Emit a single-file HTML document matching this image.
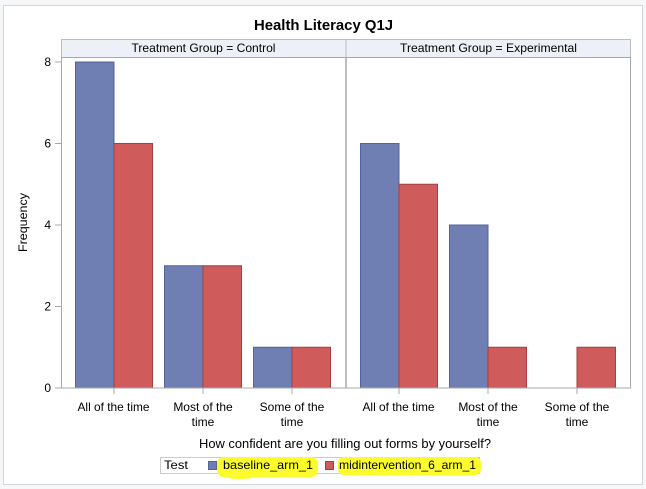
<!DOCTYPE html>
<html>
<head>
<meta charset="utf-8">
<style>
html,body{margin:0;padding:0;background:#f6f7f9;}
svg{display:block;}
text{font-family:"Liberation Sans",Arial,sans-serif;fill:#000;}
</style>
</head>
<body>
<svg width="646" height="489" viewBox="0 0 646 489" xmlns="http://www.w3.org/2000/svg">
  <rect x="0" y="0" width="646" height="489" fill="#f6f7f9"/>
  <rect x="3.5" y="5.5" width="639" height="479" fill="#ffffff" stroke="#d2d5db" stroke-width="1"/>

  <!-- Title -->
  <text x="323.5" y="30" font-size="15" font-weight="bold" text-anchor="middle" textLength="139" lengthAdjust="spacingAndGlyphs">Health Literacy Q1J</text>

  <!-- Header strips -->
  <rect x="61.5" y="39.5" width="569" height="18" fill="#eef0f7" stroke="#b9bcc4" stroke-width="1"/>
  <line x1="346" y1="39.5" x2="346" y2="57.5" stroke="#b9bcc4" stroke-width="1"/>
  <text x="203.5" y="52" font-size="12" text-anchor="middle" textLength="144" lengthAdjust="spacingAndGlyphs">Treatment Group = Control</text>
  <text x="488.5" y="52" font-size="12" text-anchor="middle" textLength="177" lengthAdjust="spacingAndGlyphs">Treatment Group = Experimental</text>

  <!-- Bars: Control -->
  <g stroke-width="1">
    <rect x="75.5" y="62" width="38.5" height="326" fill="#6f7eb3" stroke="#55639a"/>
    <rect x="114" y="143.5" width="38.5" height="244.5" fill="#d05b5b" stroke="#a4403f"/>
    <rect x="164.5" y="265.75" width="38.5" height="122.25" fill="#6f7eb3" stroke="#55639a"/>
    <rect x="203" y="265.75" width="38.5" height="122.25" fill="#d05b5b" stroke="#a4403f"/>
    <rect x="253.5" y="347.25" width="38.5" height="40.75" fill="#6f7eb3" stroke="#55639a"/>
    <rect x="292" y="347.25" width="38.5" height="40.75" fill="#d05b5b" stroke="#a4403f"/>
    <!-- Experimental -->
    <rect x="360.5" y="143.5" width="38.5" height="244.5" fill="#6f7eb3" stroke="#55639a"/>
    <rect x="399" y="184.25" width="38.5" height="203.75" fill="#d05b5b" stroke="#a4403f"/>
    <rect x="449.5" y="225" width="38.5" height="163" fill="#6f7eb3" stroke="#55639a"/>
    <rect x="488" y="347.25" width="38.5" height="40.75" fill="#d05b5b" stroke="#a4403f"/>
    <rect x="577" y="347.25" width="38.5" height="40.75" fill="#d05b5b" stroke="#a4403f"/>
  </g>

  <!-- Panel frames -->
  <rect x="61.5" y="57.5" width="569" height="330.5" fill="none" stroke="#a7a9ae" stroke-width="1"/>
  <line x1="346" y1="57.5" x2="346" y2="388" stroke="#a7a9ae" stroke-width="1.5"/>

  <!-- Y ticks -->
  <g stroke="#a7a9ae" stroke-width="1">
    <line x1="55" y1="62" x2="61" y2="62"/>
    <line x1="55" y1="143.5" x2="61" y2="143.5"/>
    <line x1="55" y1="225" x2="61" y2="225"/>
    <line x1="55" y1="306.5" x2="61" y2="306.5"/>
    <line x1="55" y1="388" x2="61" y2="388"/>
  </g>
  <g font-size="12" text-anchor="end">
    <text x="51" y="66">8</text>
    <text x="51" y="147.5">6</text>
    <text x="51" y="229">4</text>
    <text x="51" y="310.5">2</text>
    <text x="51" y="392">0</text>
  </g>
  <text x="27" y="222.5" font-size="12" text-anchor="middle" transform="rotate(-90 27 222.5)" textLength="59" lengthAdjust="spacingAndGlyphs">Frequency</text>

  <!-- X ticks -->
  <g stroke="#a7a9ae" stroke-width="1">
    <line x1="114" y1="388" x2="114" y2="394"/>
    <line x1="203" y1="388" x2="203" y2="394"/>
    <line x1="292" y1="388" x2="292" y2="394"/>
    <line x1="399" y1="388" x2="399" y2="394"/>
    <line x1="488" y1="388" x2="488" y2="394"/>
    <line x1="577" y1="388" x2="577" y2="394"/>
  </g>
  <g font-size="12" text-anchor="middle">
    <text x="113.5" y="411" textLength="72" lengthAdjust="spacingAndGlyphs">All of the time</text>
    <text x="203" y="411">Most of the</text>
    <text x="203" y="426">time</text>
    <text x="292" y="411">Some of the</text>
    <text x="292" y="426">time</text>
    <text x="398.5" y="411" textLength="72" lengthAdjust="spacingAndGlyphs">All of the time</text>
    <text x="488" y="411">Most of the</text>
    <text x="488" y="426">time</text>
    <text x="577" y="411">Some of the</text>
    <text x="577" y="426">time</text>
  </g>
  <text x="345" y="448" font-size="13" text-anchor="middle" textLength="292" lengthAdjust="spacingAndGlyphs">How confident are you filling out forms by yourself?</text>

  <!-- Legend -->
  <rect x="160.5" y="457.5" width="319" height="16" fill="#ffffff" stroke="#c9ccd2" stroke-width="1"/>
  <rect x="217" y="457" width="101" height="20" rx="7" fill="#fbfb2e"/>
  <ellipse cx="240" cy="474" rx="20" ry="5" fill="#fbfb2e"/>
  <rect x="338" y="457" width="143" height="18" rx="6" fill="#fbfb2e"/>
  <text x="164" y="469" font-size="12" textLength="24" lengthAdjust="spacingAndGlyphs">Test</text>
  <rect x="208.5" y="461.5" width="8" height="8" fill="#6f7eb3" stroke="#55639a" stroke-width="1"/>
  <text x="223" y="469" font-size="12" textLength="90" lengthAdjust="spacingAndGlyphs">baseline_arm_1</text>
  <rect x="325.5" y="461.5" width="8" height="8" fill="#d05b5b" stroke="#a4403f" stroke-width="1"/>
  <text x="339" y="469" font-size="12" textLength="137" lengthAdjust="spacingAndGlyphs">midintervention_6_arm_1</text>
</svg>
</body>
</html>
